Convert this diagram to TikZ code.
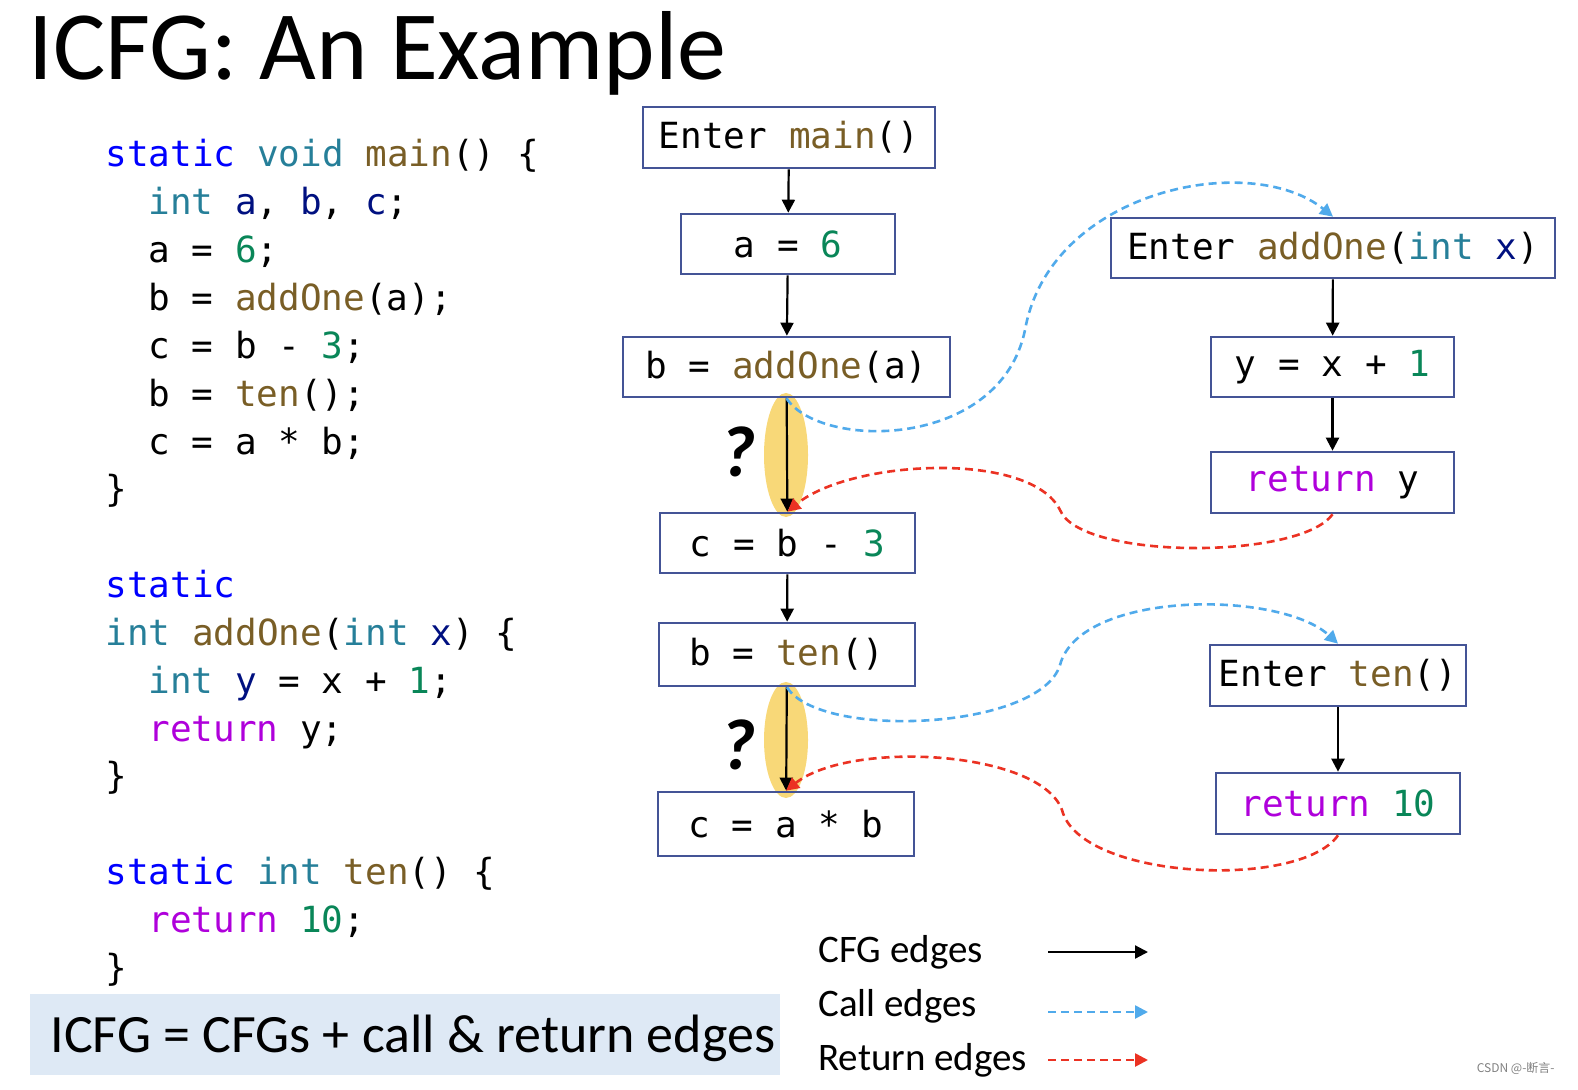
\documentclass[tikz,border=0pt]{standalone}
\usepackage{fontspec}
\setmainfont{Carlito}
\setmonofont{DejaVu Sans Mono}
\newfontfamily\cjk{Noto Sans CJK SC}
\usetikzlibrary{arrows.meta}
\definecolor{kw}{RGB}{0,0,255}
\definecolor{ty}{RGB}{38,127,153}
\definecolor{fn}{RGB}{121,94,38}
\definecolor{nu}{RGB}{9,134,88}
\definecolor{rt}{RGB}{175,0,219}
\definecolor{vr}{RGB}{0,16,128}
\definecolor{bx}{RGB}{68,84,150}
\definecolor{cl}{RGB}{80,170,235}
\definecolor{re}{RGB}{235,50,35}
\definecolor{hl}{RGB}{248,216,120}
\definecolor{bg}{RGB}{222,233,245}
\newcommand{\Kw}[1]{\textcolor{kw}{#1}}
\newcommand{\Ty}[1]{\textcolor{ty}{#1}}
\newcommand{\Fn}[1]{\textcolor{fn}{#1}}
\newcommand{\Nu}[1]{\textcolor{nu}{#1}}
\newcommand{\Rt}[1]{\textcolor{rt}{#1}}
\newcommand{\Vr}[1]{\textcolor{vr}{#1}}
\begin{document}
\begin{tikzpicture}[x=0.5pt,y=-0.5pt,
 code/.style={anchor=base west,inner sep=0,font=\ttfamily\fontsize{18}{20}\selectfont},
 box/.style={draw=bx,line width=1.3pt,inner sep=0,font=\ttfamily\fontsize{18}{20}\selectfont},
 cfg/.style={-{Triangle[length=6.5pt,width=6.5pt]},line width=1.1pt},
 call/.style={-{Triangle[length=6.5pt,width=6.5pt]},cl,line width=1.3pt,dash pattern=on 4pt off 2.5pt},
 ret/.style={-{Triangle[length=6.5pt,width=6.5pt]},re,line width=1.3pt,dash pattern=on 4pt off 2.5pt},
 q/.style={font=\bfseries\fontsize{36}{36}\selectfont,xslant=0.1}]
\useasboundingbox (0,0) rectangle (1578,1090);
\node[anchor=base west,inner sep=0,font=\fontsize{49}{54}\selectfont] (title) at (28,80) {ICFG: An Example};
% code
\node[code] (l1) at (105,167) {\Kw{static} \Ty{void} \Fn{main}() \{};
\node[code] (l2) at (148,215) {\Ty{int} \Vr{a}, \Vr{b}, \Vr{c};};
\node[code] (l3) at (148,263) {a = \Nu{6};};
\node[code] (l4) at (148,311) {b = \Fn{addOne}(a);};
\node[code] (l5) at (148,359) {c = b - \Nu{3};};
\node[code] (l6) at (148,407) {b = \Fn{ten}();};
\node[code] (l7) at (148,455) {c = a * b;};
\node[code] (l8) at (105,502) {\}};
\node[code] (m1) at (105,597) {\Kw{static}};
\node[code] (m2) at (105,645) {\Ty{int} \Fn{addOne}(\Ty{int} \Vr{x}) \{};
\node[code] (m3) at (148,693) {\Ty{int} \Vr{y} = x + \Nu{1};};
\node[code] (m4) at (148,741) {\Rt{return} y;};
\node[code] (m5) at (105,788) {\}};
\node[code] (n1) at (105,884) {\Kw{static} \Ty{int} \Fn{ten}() \{};
\node[code] (n2) at (148,932) {\Rt{return} \Nu{10};};
\node[code] (n3) at (105,980) {\}};
% highlights
\fill[hl] (786,455) ellipse [x radius=22, y radius=62];
\fill[hl] (786,740) ellipse [x radius=22, y radius=58];
\node[q] (q1) at (740,452) {?};
\node[q] (q2) at (740,745) {?};
% boxes
\node[box,minimum width=146pt,minimum height=30.5pt] (em) at (789,137.5) {Enter \Fn{main}()};
\node[box,minimum width=107pt,minimum height=30pt] (a6) at (788,244) {a = \Nu{6}};
\node[box,minimum width=163.5pt,minimum height=30pt] (ba) at (786.5,367) {b = \Fn{addOne}(a)};
\node[box,minimum width=127.5pt,minimum height=30pt] (cb) at (787.5,543) {c = b - \Nu{3}};
\node[box,minimum width=128pt,minimum height=31.5pt] (bt) at (787,654.5) {b = \Fn{ten}()};
\node[box,minimum width=128pt,minimum height=32pt] (ca) at (786,824) {c = a * b};
\node[box,minimum width=222pt,minimum height=30pt] (ea) at (1333,248) {Enter \Fn{addOne}(\Ty{int} \Vr{x})};
\node[box,minimum width=121.5pt,minimum height=30pt] (yx) at (1332.5,367) {y = x + \Nu{1}};
\node[box,minimum width=121.5pt,minimum height=30.5pt] (ry) at (1332.5,482.5) {\Rt{return} y};
\node[box,minimum width=128pt,minimum height=30.5pt] (et) at (1338,675.5) {Enter \Fn{ten}()};
\node[box,minimum width=122pt,minimum height=30.5pt] (rt) at (1338,803.5) {\Rt{return} \Nu{10}};
% cfg edges
\draw[cfg] (em) -- (a6);
\draw[cfg] (a6) -- (ba);
\draw[cfg] (ba) -- (cb);
\draw[cfg] (cb) -- (bt);
\draw[cfg] (bt) -- (ca);
\draw[cfg] (ea) -- (yx);
\draw[cfg] (yx) -- (ry);
\draw[cfg] (et) -- (rt);
% call/return
\draw[call] (ba.south) .. controls (820,450) and (1000,450) .. (1025,330) .. controls (1050,190) and (1250,150) .. (ea.north);
\draw[ret] (ry.south) .. controls (1300,560) and (1080,560) .. (1060,510) .. controls (1030,450) and (850,460) .. (cb.north);
\draw[call] (bt.south) .. controls (820,740) and (1040,730) .. (1060,665) .. controls (1080,590) and (1280,590) .. (et.north);
\draw[ret] (rt.south) .. controls (1300,890) and (1080,880) .. (1062,810) .. controls (1040,750) and (850,740) .. (ca.north);
% legend
\node[anchor=base west,inner sep=0,font=\fontsize{19.5}{22}\selectfont] (lg1) at (818,962) {CFG edges};
\node[anchor=base west,inner sep=0,font=\fontsize{19.5}{22}\selectfont] (lg2) at (818,1016) {Call edges};
\node[anchor=base west,inner sep=0,font=\fontsize{19.5}{22}\selectfont] (lg3) at (818,1070) {Return edges};
\coordinate (c1a) at (1048,952); \coordinate (c1b) at (1148,952);
\coordinate (c2a) at (1048,1012); \coordinate (c2b) at (1148,1012);
\coordinate (c3a) at (1048,1060); \coordinate (c3b) at (1148,1060);
\draw[cfg] (c1a) -- (c1b);
\draw[call] (c2a) -- (c2b);
\draw[ret] (c3a) -- (c3b);
% summary
\fill[bg] (30,994) rectangle (780,1075);
\node[anchor=base west,inner sep=0,font=\fontsize{27}{30}\selectfont] (sum) at (50,1052) {ICFG = CFGs + call \& return edges};
\node[anchor=base east,inner sep=0,text=gray,font=\cjk\fontsize{6}{7}\selectfont] (wm) at (1555,1072) {CSDN @-断言-};
\end{tikzpicture}
\end{document}
